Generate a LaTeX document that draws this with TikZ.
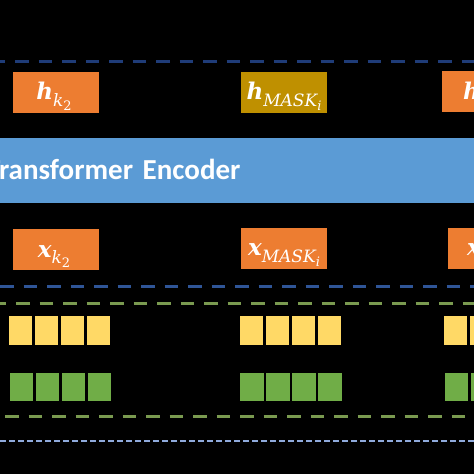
\documentclass[tikz,border=0pt]{standalone}
\usepackage{fontspec}
\newfontfamily\barfont{Carlito}
\newfontfamily\tokfont{DejaVu Serif}
\usepackage{xcolor}
\usetikzlibrary{positioning,calc}

\definecolor{tokorange}{HTML}{ED7D31}
\definecolor{tokgold}{HTML}{BF9000}
\definecolor{encblue}{HTML}{5B9BD5}
\definecolor{cellyellow}{HTML}{FFD966}
\definecolor{cellgreen}{HTML}{70AD47}
\definecolor{sepnavy}{HTML}{1F3C78}
\definecolor{sepblue}{HTML}{2F5597}
\definecolor{sepgreen}{HTML}{7A9A50}
\definecolor{seplight}{HTML}{8FAADC}

% token label: bold italic symbol, subscript, sub-subscript
\newcommand{\tokvar}[3]{{\bfseries\itshape #1}\raisebox{-6.5pt}{\fontsize{17}{18}\selectfont\itshape #2\raisebox{-4pt}{\fontsize{13}{14}\selectfont #3}}}

\begin{document}
\begin{tikzpicture}[
    x=1pt, y=-1pt,
    tok/.style={rectangle, fill=tokorange, text=white, minimum width=86pt, minimum height=41pt, inner sep=0pt,
        text height=15pt, text depth=0pt, font=\tokfont\fontsize{23}{28}\selectfont},
    cell/.style={rectangle, minimum width=23.5pt, minimum height=28.7pt, inner sep=0pt, anchor=north west},
    sepline/.style={line width=3pt, dash pattern=on 13.5pt off 10pt}
]
    \useasboundingbox (0,0) rectangle (474,474);
    \clip (0,0) rectangle (474,474);
    \fill[black] (0,0) rectangle (474,474);

    % Separators
    \draw[sepline, sepnavy] (-8.3,61.7) -- (480,61.7);
    \draw[sepline, sepblue] (0,286.3) -- (480,286.3);
    \draw[sepline, sepgreen] (-7.3,303.7) -- (480,303.7);
    \draw[sepline, sepgreen] (5,416.7) -- (480,416.7);
    \draw[line width=2pt, seplight, dash pattern=on 6pt off 3pt] (0,441) -- (480,441);

    % Hidden states
    \node[tok] (hk) at (56,92.3) {\tokvar{h}{k}{\upshape 2}\hspace*{4pt}};
    \node[tok, fill=tokgold] (hmask) at (284,92.3) {\tokvar{h}{MASK}{i}};
    \node[tok, anchor=west, text width=86pt, align=left] (hr) at (442,91.5) {\hspace*{21pt}{\bfseries\itshape h}};

    % Encoder
    \node[rectangle, fill=encblue, text=white, anchor=west, minimum height=65.6pt,
          text width=492pt, align=left, inner sep=0pt, text height=17pt, text depth=0pt,
          font=\barfont\bfseries\fontsize{29}{34}\selectfont] (enc) at (-14,170.5) {Transformer Encoder};

    % Inputs
    \node[tok] (xk) at (56,249.5) {\tokvar{x}{k}{\upshape 2}\hspace*{4pt}};
    \node[tok] (xmask) at (284,248.3) {\tokvar{x}{MASK}{i}};
    \node[tok, anchor=west, text width=86pt, align=left] (xr) at (448,248.4) {\hspace*{19pt}{\bfseries\itshape x}};

    % Embedding cells
    \foreach \g/\gx in {a/8.7, b/239.3, c/443.7} {
        \foreach \i in {0,...,3} {
            \node[cell, fill=cellyellow] (y\g\i) at ({\gx+26*\i},316) {};
            \node[cell, fill=cellgreen] (g\g\i) at ({\gx+0.6+26*\i},372.3) {};
        }
    }
\end{tikzpicture}
\end{document}
